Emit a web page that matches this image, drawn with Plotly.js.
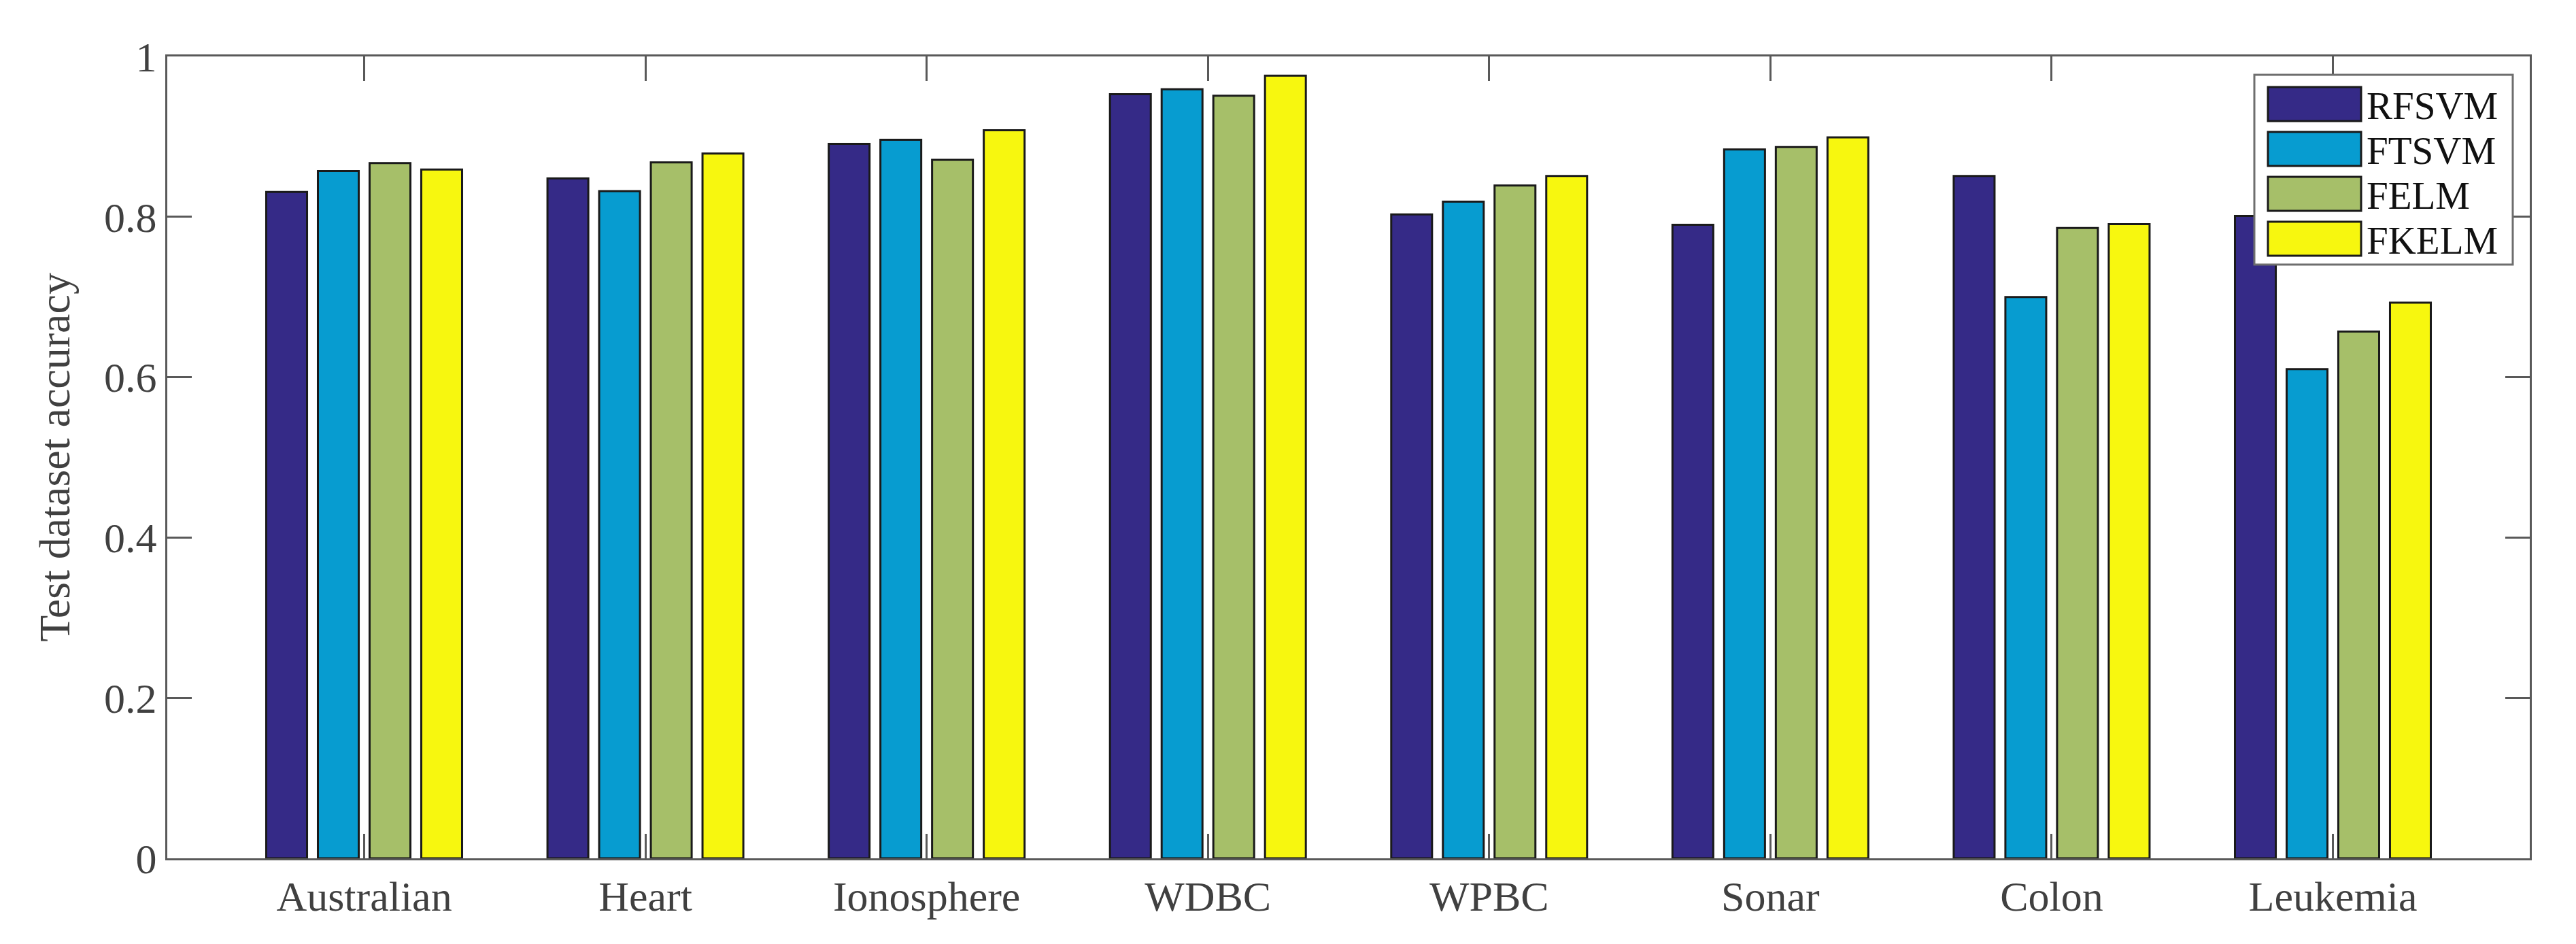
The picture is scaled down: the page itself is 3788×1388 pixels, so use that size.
<!DOCTYPE html>
<html>
<head>
<meta charset="utf-8">
<script src="https://cdn.plot.ly/plotly-3.0.1.min.js"></script>
<style>
  html, body { margin: 0; padding: 0; background: #fff; }
  #myPlot { width: 3788px; height: 1388px; }
</style>
</head>
<body>
<div id="myPlot"></div>
<script>
// Datasets on the x axis
const datasets = ['Australian', 'Heart', 'Ionosphere', 'WDBC', 'WPBC', 'Sonar', 'Colon', 'Leukemia'];

// Test accuracy per method
const rfsvm = [0.831, 0.848, 0.891, 0.953, 0.803, 0.790, 0.851, 0.801];
const ftsvm = [0.857, 0.832, 0.896, 0.959, 0.819, 0.884, 0.700, 0.610];
const felm  = [0.867, 0.868, 0.871, 0.951, 0.839, 0.887, 0.786, 0.657];
const fkelm = [0.859, 0.879, 0.908, 0.976, 0.851, 0.899, 0.791, 0.693];

const methods = ['RFSVM', 'FTSVM', 'FELM', 'FKELM'];
const colors = ['#352a87', '#079cd0', '#a6bf69', '#f7f70f'];
const series = [rfsvm, ftsvm, felm, fkelm];

const W = 3788, H = 1388;
const margin = {l: 246, r: 68, t: 83, b: 126};
const plotW = W - margin.l - margin.r;
const plotH = H - margin.t - margin.b;

// pixel -> paper helpers for the hand-drawn legend
const px = (x) => (x - margin.l) / plotW;
const py = (y) => (H - margin.b - y) / plotH;

const serif = 'Liberation Serif, Times New Roman, serif';
const tickFont = {family: serif, size: 62, color: '#404040'};
const titleFont = {family: serif, size: 64, color: '#404040'};
const axisGrey = '#595959';

const data = series.map((vals, i) => ({
  type: 'bar',
  name: methods[i],
  x: datasets,
  y: vals,
  marker: {color: colors[i], line: {color: '#1a1a1a', width: 3}},
  showlegend: false
}));

// Legend box like MATLAB's: grey frame, wide swatches, black labels
const shapes = [{
  type: 'rect', xref: 'paper', yref: 'paper',
  x0: px(3315), x1: px(3695), y0: py(389), y1: py(110),
  fillcolor: '#ffffff', line: {color: '#6e6e6e', width: 3}, layer: 'above'
}];
const annotations = [];
const rowTop = [128, 194, 260, 326];
methods.forEach((m, i) => {
  shapes.push({
    type: 'rect', xref: 'paper', yref: 'paper',
    x0: px(3335), x1: px(3472), y0: py(rowTop[i] + 50), y1: py(rowTop[i]),
    fillcolor: colors[i], line: {color: '#1a1a1a', width: 3}, layer: 'above'
  });
  annotations.push({
    xref: 'paper', yref: 'paper', x: px(3478), y: py(rowTop[i] + 27),
    xanchor: 'left', yanchor: 'middle', showarrow: false, text: m,
    font: {family: serif, size: 57, color: '#111111'}
  });
});

const layout = {
  width: W, height: H,
  margin: margin,
  paper_bgcolor: '#ffffff',
  plot_bgcolor: '#ffffff',
  font: tickFont,
  barmode: 'group',
  bargap: 0.265,
  bargroupgap: 0.21,
  xaxis: {
    type: 'category',
    range: [-0.7, 7.7],
    showline: true, linecolor: axisGrey, linewidth: 3,
    mirror: 'ticks',
    ticks: 'inside', ticklen: 36, tickwidth: 3, tickcolor: axisGrey,
    showgrid: false, zeroline: false,
    tickfont: tickFont,
    automargin: false
  },
  yaxis: {
    range: [0, 1],
    dtick: 0.2,
    showline: true, linecolor: axisGrey, linewidth: 3,
    mirror: 'ticks',
    ticks: 'inside', ticklen: 36, tickwidth: 3, tickcolor: axisGrey,
    showgrid: false, zeroline: false,
    tickfont: tickFont,
    title: {text: 'Test dataset accuracy', font: titleFont, standoff: 30},
    automargin: false
  },
  shapes: shapes,
  annotations: annotations
};

Plotly.newPlot('myPlot', data, layout, {staticPlot: true, displayModeBar: false});
</script>
</body>
</html>
